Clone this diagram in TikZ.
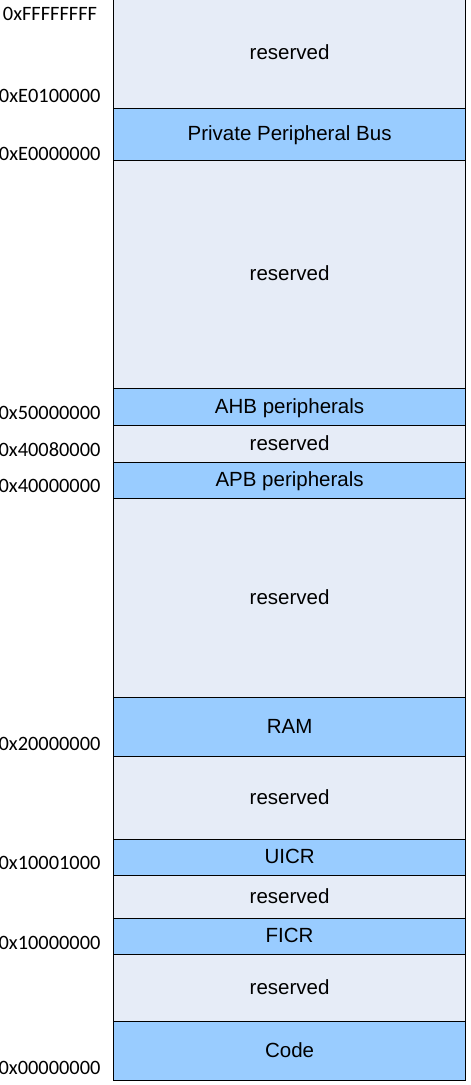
\documentclass[tikz,border=0pt]{standalone}
\usepackage{fontspec}
\setmainfont{Liberation Sans}
\newfontfamily\addrfont{Carlito}
\usetikzlibrary{positioning}
\definecolor{resvfill}{RGB}{230,236,247}
\definecolor{regfill}{RGB}{153,204,255}

\begin{document}
\begin{tikzpicture}
  [x=1pt,y=-1pt,
   region/.style={draw=black,line width=1pt,minimum width=352pt,inner sep=0pt,
     text height=1.3em,text depth=0em,font=\fontsize{20.5}{24}\selectfont},
   resv/.style={region,fill=resvfill},
   used/.style={region,fill=regfill},
   addr/.style={anchor=base east,inner sep=0pt,font=\addrfont\fontsize{20.4}{24}\selectfont}]
  \useasboundingbox (0,0) rectangle (471,1085);

  % memory regions, top to bottom
  \foreach \n/\ya/\yb/\kind/\txt in {1/-2/108/resv/reserved,
      2/108/160/used/Private Peripheral Bus, 3/160/388/resv/reserved,
      4/388/425/used/AHB peripherals, 5/425/462/resv/reserved,
      6/462/498/used/APB peripherals, 7/498/697/resv/reserved,
      8/697/756/used/RAM, 9/756/839/resv/reserved,
      10/839/875/used/UICR, 11/875/918/resv/reserved,
      12/918/954/used/FICR, 13/954/1021/resv/reserved,
      14/1021/1080/used/Code}
  {
    \pgfmathsetmacro\yc{(\ya+\yb)/2}
    \pgfmathsetmacro\h{\yb-\ya}
    \node[\kind,minimum height=\h pt] (r\n) at (289.6,\yc) {\txt};
  }

  % addresses
  \node[addr] (aFFFF) at (97.3,20.7) {0xFFFFFFFF};
  \foreach \n/\y/\adr in {E010/102.7/0xE0100000, E000/160.5/0xE0000000,
      5000/419.3/0x50000000, 4008/456/0x40080000, 4000/492.7/0x40000000,
      2000/750/0x20000000, 1001/869.3/0x10001000, 1000/949.3/0x10000000,
      0000/1074/0x00000000}
    \node[addr] (a\n) at (100.7,\y) {\adr};

\end{tikzpicture}
\end{document}
